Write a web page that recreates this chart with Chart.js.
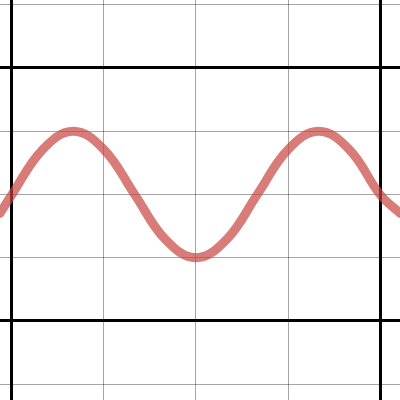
<!DOCTYPE html>
<html><head><meta charset="utf-8">
<script src="https://cdn.jsdelivr.net/npm/chart.js@4"></script>
<style>html,body{margin:0;padding:0;background:#fff}</style>
</head><body>
<canvas id="c" width="400" height="400"></canvas>
<script>
const xs = [-0.13, 0, 1/3, 2/3, 1, 4/3, 5/3, 2, 7/3, 8/3, 3, 10/3, 11/3, 4, 4.22];
const ys = [1.70, 2, 2.71, 3, 2.71, 2, 1.29, 1, 1.29, 2, 2.71, 3, 2.71, 2, 1.70];
const gridX = [0, 1, 2, 3, 4];
const gridY = [-1, 0, 1, 2, 3, 4, 5];
const majorX = [0, 4];
const majorY = [0, 4];
const pts = xs.map((x, i) => ({x, y: ys[i]}));
function gridOpts(major) {
  return {
    color: c => major.includes(c.tick.value) ? '#000' : 'rgba(0,0,0,0.35)',
    lineWidth: c => major.includes(c.tick.value) ? 3 : 1,
    drawTicks: false
  };
}
new Chart(document.getElementById('c'), {
  type: 'scatter',
  data: { datasets: [{ data: pts, showLine: true, borderColor: 'rgba(199,68,64,0.7)', borderWidth: 9, pointRadius: 0, tension: 0.4, borderCapStyle: 'round' }] },
  options: {
    responsive: false, animation: false,
    layout: { padding: 0 },
    plugins: { legend: { display: false }, tooltip: { enabled: false } },
    scales: {
      x: { type: 'linear', min: -0.13, max: 4.217, afterBuildTicks: s => { s.ticks = gridX.map(v => ({value: v})); }, ticks: { display: false }, border: { display: false }, grid: gridOpts(majorX) },
      y: { type: 'linear', min: -1.25, max: 5.075, afterBuildTicks: s => { s.ticks = gridY.map(v => ({value: v})); }, ticks: { display: false }, border: { display: false }, grid: gridOpts(majorY) }
    }
  }
});
</script>
</body></html>
